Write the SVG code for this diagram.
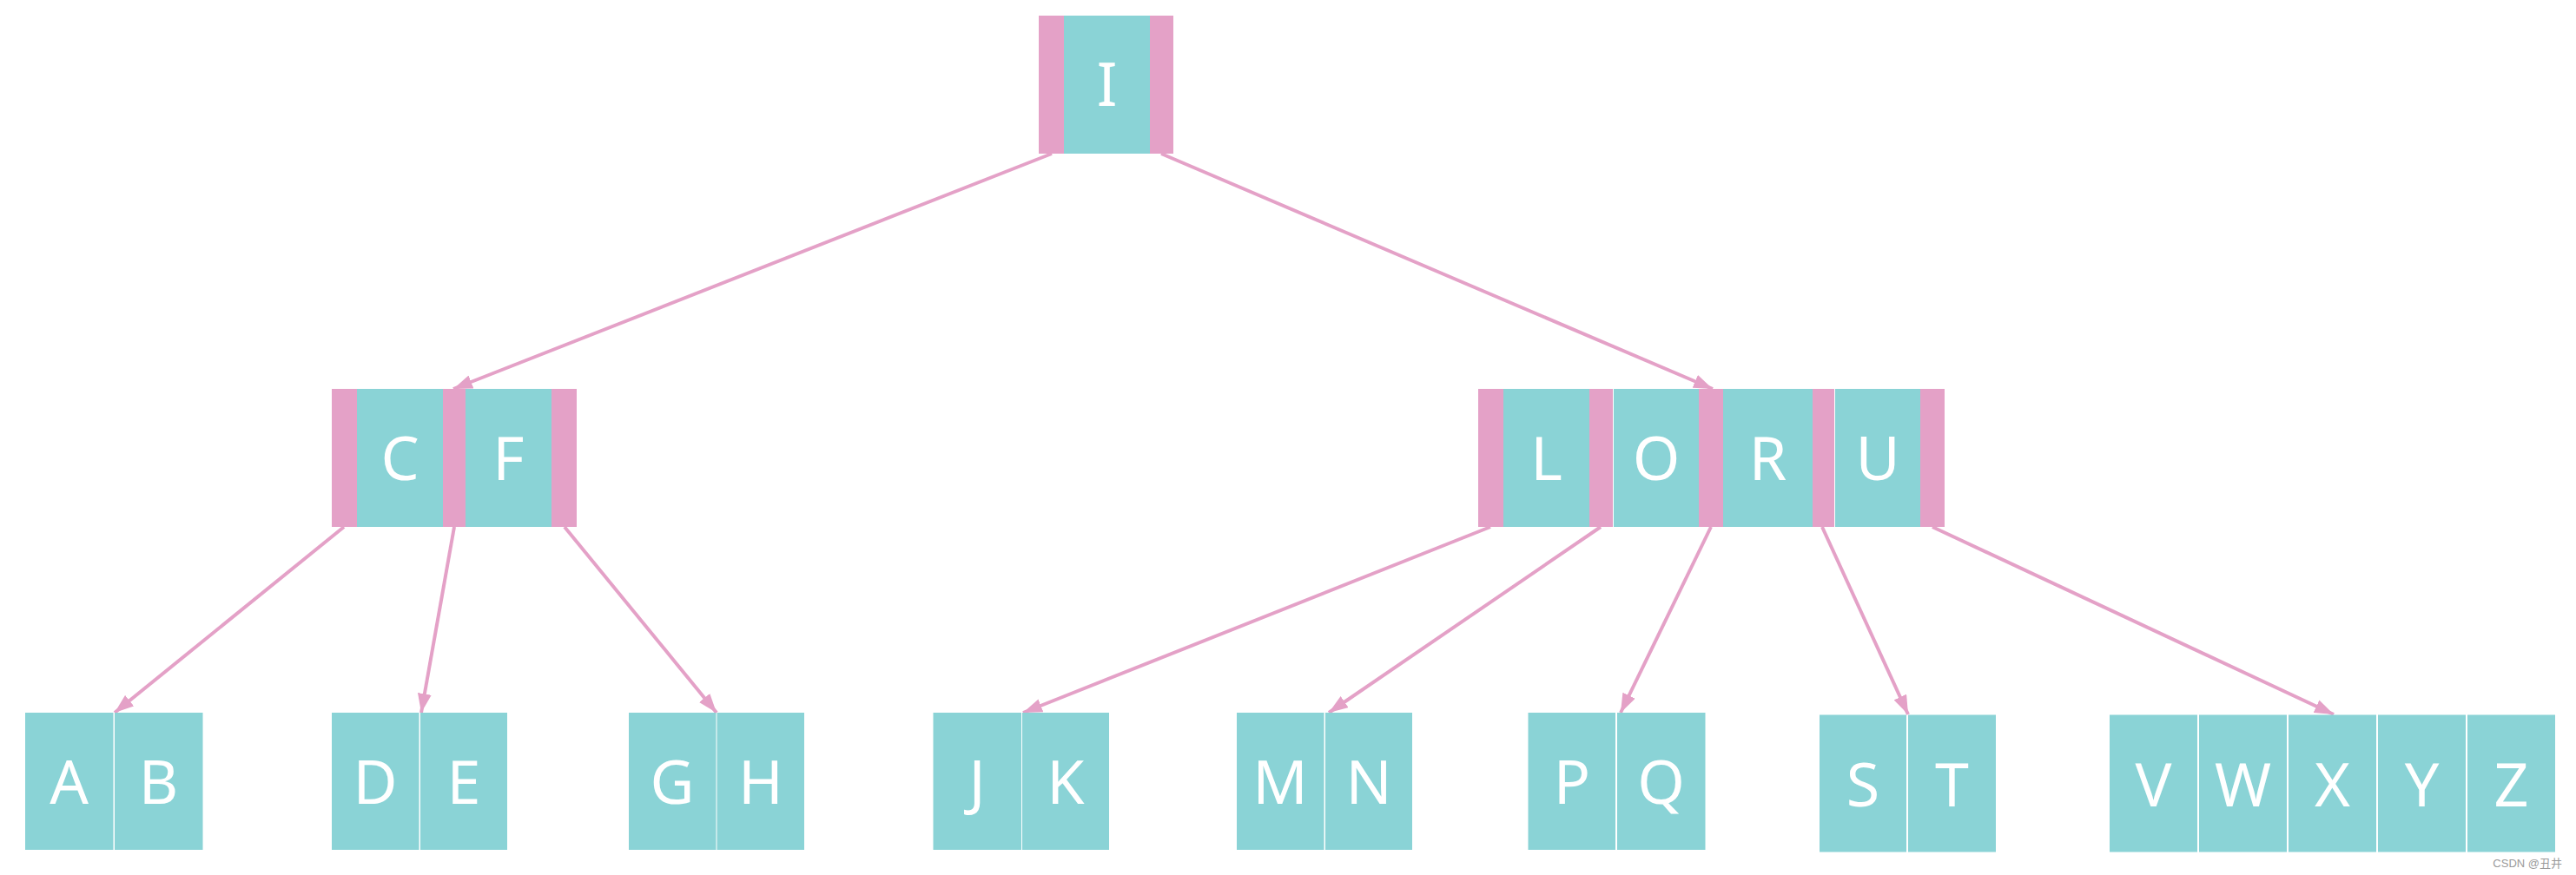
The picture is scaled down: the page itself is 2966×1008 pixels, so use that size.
<svg xmlns="http://www.w3.org/2000/svg" width="2966" height="1008" viewBox="0 0 2966 1008">
<style>
.k{fill:#8AD3D6}
.p{fill:#E4A1C7}
.t{fill:#FFFFFF;font-family:"Noto Sans","Open Sans",sans-serif;font-size:70px;text-anchor:middle}
.e{stroke:#E4A1C7;stroke-width:4;fill:none;marker-end:url(#ah)}
.w{fill:#9A9A9A;font-family:"Liberation Sans","Noto Sans CJK SC",sans-serif;font-size:13px;text-anchor:end}
</style>
<defs>
<marker id="ah" markerUnits="userSpaceOnUse" markerWidth="22" markerHeight="16" refX="22" refY="8" orient="auto">
<path d="M0,0 L22,8 L0,16 z" fill="#E4A1C7"/>
</marker>
</defs>
<rect width="2966" height="1008" fill="#FFFFFF"/>
<g id="connectors">
<line class="e" x1="1211" y1="177" x2="522" y2="448"/>
<line class="e" x1="1337" y1="177" x2="1972" y2="448"/>
<line class="e" x1="396" y1="607" x2="132" y2="821"/>
<line class="e" x1="523" y1="607" x2="485" y2="821"/>
<line class="e" x1="650" y1="607" x2="825" y2="821"/>
<line class="e" x1="1716" y1="607" x2="1178" y2="821"/>
<line class="e" x1="1843" y1="607" x2="1530" y2="821"/>
<line class="e" x1="1970" y1="607" x2="1866" y2="821"/>
<line class="e" x1="2098" y1="607" x2="2197" y2="823"/>
<line class="e" x1="2225" y1="607" x2="2687" y2="823"/>
</g>
<g id="node-I">
<rect class="p" x="1196" y="18" width="29" height="159"/>
<rect class="k" x="1225" y="18" width="99" height="159"/>
<rect class="p" x="1324" y="18" width="27" height="159"/>
<text class="t" x="1274.5" y="122">I</text>
</g>
<g id="node-CF">
<rect class="p" x="382" y="448" width="29" height="159"/>
<rect class="k" x="411" y="448" width="99" height="159"/>
<rect class="p" x="510" y="448" width="26" height="159"/>
<rect class="k" x="536" y="448" width="99" height="159"/>
<rect class="p" x="635" y="448" width="29" height="159"/>
<text class="t" x="460.5" y="553">C</text>
<text class="t" x="585.5" y="553">F</text>
</g>
<g id="node-LORU">
<rect class="p" x="1702" y="448" width="29" height="159"/>
<rect class="k" x="1731" y="448" width="99" height="159"/>
<rect class="p" x="1830" y="448" width="27" height="159"/>
<rect class="k" x="1858" y="448" width="98" height="159"/>
<rect class="p" x="1956" y="448" width="28" height="159"/>
<rect class="k" x="1984" y="448" width="103" height="159"/>
<rect class="p" x="2087" y="448" width="25" height="159"/>
<rect class="k" x="2113" y="448" width="98" height="159"/>
<rect class="p" x="2211" y="448" width="28" height="159"/>
<text class="t" x="1780.5" y="553">L</text>
<text class="t" x="1907" y="553">O</text>
<text class="t" x="2035.5" y="553">R</text>
<text class="t" x="2162" y="553">U</text>
</g>
<g id="node-AB">
<rect class="k" x="29" y="821" width="101.5" height="158"/>
<rect class="k" x="132" y="821" width="101.5" height="158"/>
<text class="t" x="79.5" y="926">A</text>
<text class="t" x="182.5" y="926">B</text>
</g>
<g id="node-DE">
<rect class="k" x="382" y="821" width="100.5" height="158"/>
<rect class="k" x="484" y="821" width="100" height="158"/>
<text class="t" x="432" y="926">D</text>
<text class="t" x="534" y="926">E</text>
</g>
<g id="node-GH">
<rect class="k" x="724" y="821" width="100.5" height="158"/>
<rect class="k" x="825.5" y="821" width="100.5" height="158"/>
<text class="t" x="774" y="926">G</text>
<text class="t" x="876" y="926">H</text>
</g>
<g id="node-JK">
<rect class="k" x="1074.5" y="821" width="101.5" height="158"/>
<rect class="k" x="1177" y="821" width="100" height="158"/>
<text class="t" x="1125" y="926">J</text>
<text class="t" x="1227" y="926">K</text>
</g>
<g id="node-MN">
<rect class="k" x="1424" y="821" width="100.5" height="158"/>
<rect class="k" x="1526" y="821" width="100" height="158"/>
<text class="t" x="1474" y="926">M</text>
<text class="t" x="1576" y="926">N</text>
</g>
<g id="node-PQ">
<rect class="k" x="1759.5" y="821" width="100.5" height="158"/>
<rect class="k" x="1862" y="821" width="101.5" height="158"/>
<text class="t" x="1810" y="926">P</text>
<text class="t" x="1912.5" y="926">Q</text>
</g>
<g id="node-ST">
<rect class="k" x="2095" y="823.5" width="100" height="158"/>
<rect class="k" x="2197" y="823.5" width="101" height="158"/>
<text class="t" x="2145" y="928.5">S</text>
<text class="t" x="2247.5" y="928.5">T</text>
</g>
<g id="node-VWXYZ">
<rect class="k" x="2429" y="823.5" width="101" height="158"/>
<rect class="k" x="2532" y="823.5" width="101" height="158"/>
<rect class="k" x="2635" y="823.5" width="101" height="158"/>
<rect class="k" x="2738" y="823.5" width="101" height="158"/>
<rect class="k" x="2841" y="823.5" width="101" height="158"/>
<text class="t" x="2479.5" y="928.5">V</text>
<text class="t" x="2582.5" y="928.5">W</text>
<text class="t" x="2685.5" y="928.5">X</text>
<text class="t" x="2788.5" y="928.5">Y</text>
<text class="t" x="2891.5" y="928.5">Z</text>
</g>
<text class="w" x="2950" y="999">CSDN @丑井</text>
</svg>
